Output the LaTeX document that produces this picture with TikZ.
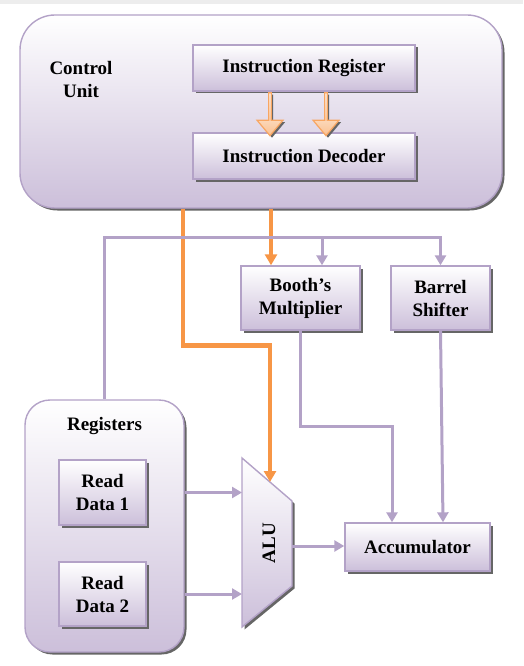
\documentclass[tikz,border=0pt]{standalone}
\usepackage{fontspec}
\setmainfont{Liberation Serif}
\newfontfamily\tnr{Liberation Serif}
\usepackage{tikz}
\usetikzlibrary{arrows.meta,shapes.arrows,shadows}

\definecolor{lav}{HTML}{CCBFDA}
\definecolor{lavline}{HTML}{B3A2C7}
\definecolor{ora}{HTML}{F79646}
\definecolor{oralight}{HTML}{FAC090}

\tikzset{
    lbl/.style={font=\tnr\fontsize{19}{23}\selectfont\bfseries, align=center},
    unit/.style={lbl, draw=lavline, line width=1.4pt, top color=white, bottom color=lav,
        drop shadow={shadow xshift=2.5pt, shadow yshift=-2.5pt, fill=black!60, opacity=1},
        inner sep=0pt},
    pur/.style={draw=lavline, line width=3pt, -{Triangle[width=11pt,length=10pt]}},
    orng/.style={draw=ora, line width=4.5pt, -{Triangle[width=12pt,length=11pt]}},
    hollow/.style={single arrow, shape border rotate=270, draw=ora!85, line width=1.2pt,
        top color=white, bottom color=oralight, minimum height=43pt, minimum width=26pt,
        single arrow head extend=6pt, single arrow tip angle=80, inner sep=0pt,
        drop shadow={shadow xshift=2pt, shadow yshift=-2pt, fill=black!60, opacity=1}}
}

\begin{document}
\begin{tikzpicture}[x=1pt, y=-1pt]
    \useasboundingbox (0,0) rectangle (523,666);
    \fill[black!7] (0,0) rectangle (523,4);

\begin{scope}[every node/.style={unit}]
    % control unit
    \node[rounded corners=35pt, minimum width=482pt, minimum height=193pt] (cu) at (261,111.5){};
    \node[minimum width=222pt, minimum height=46pt] (ir) at (304,68){Instruction Register};
    \node[minimum width=222pt, minimum height=46pt] (id) at (304,156){Instruction Decoder};

    \node[minimum width=119pt, minimum height=64pt] (bm) at (300.5,298){Booth’s\\Multiplier};
    \node[minimum width=99pt, minimum height=64pt] (bs) at (440.5,298){Barrel\\Shifter};
    \node[minimum width=145pt, minimum height=48pt] (acc) at (417.5,547){Accumulator};

    % registers
    \node[rounded corners=25pt, minimum width=159pt, minimum height=252pt] (reg) at (104.5,526){};
    \node[minimum width=87pt, minimum height=65pt] (rd1) at (102.5,492.5){Read\\Data 1};
    \node[minimum width=87pt, minimum height=64pt] (rd2) at (102.5,594){Read\\Data 2};
\end{scope}

    \node[lbl] (cul) at (81,80){Control\\Unit};
    \node[lbl] (regl) at (104.5,426){Registers};

    \node[hollow] (a1) at (270,113.5){};
    \node[hollow] (a2) at (326,113.5){};

    % ALU
    \coordinate (alu-tl) at (242,458);
    \coordinate (alu-tr) at (292,501);
    \coordinate (alu-br) at (292,586);
    \coordinate (alu-bl) at (242,627);
    \coordinate (alu-o) at (270,482);
    \coordinate (alu-out) at (292,546);
    \path[unit] (alu-tl) -- (alu-tr) -- (alu-br) -- (alu-bl) -- cycle;
    \node[lbl, rotate=90] (alul) at (269,543){ALU};

    \path [orng] ([xshift=-78pt]cu.south) -- ++(0,137) -| (alu-o);
    \path [orng] ([xshift=10pt]cu.south) -- ([xshift=-29.5pt]bm.north);

    \path [pur] (reg.north) -- ++(0,-162) -| (bs.north);
    \path [pur] ([xshift=21.5pt]bm.north) ++(0,-28) -- ([xshift=21.5pt]bm.north);
    \path [pur] (bm.south) -- ++(0,96) -| ([xshift=-25.5pt]acc.north);
    \path [pur] (bs.south) -- ([xshift=25.5pt]acc.north);

    \path [pur] (rd1 -| reg.east) -- (rd1 -| alu-tl);
    \path [pur] (rd2 -| reg.east) -- (rd2 -| alu-tl);
    \path [pur] (alu-out) -- (alu-out -| acc.west);

\end{tikzpicture}
\end{document}
